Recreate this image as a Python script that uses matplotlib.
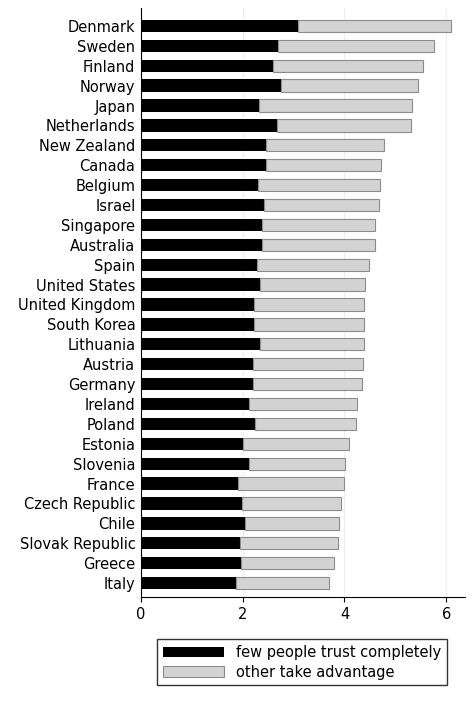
import matplotlib.pyplot as plt
import numpy as np

countries = ["Denmark", "Sweden", "Finland", "Norway", "Japan", "Netherlands",
             "New Zealand", "Canada", "Belgium", "Israel", "Singapore", "Australia",
             "Spain", "United States", "United Kingdom", "South Korea", "Lithuania",
             "Austria", "Germany", "Ireland", "Poland", "Estonia", "Slovenia",
             "France", "Czech Republic", "Chile", "Slovak Republic", "Greece", "Italy"]
trust = [3.09, 2.70, 2.60, 2.75, 2.32, 2.68, 2.45, 2.45, 2.30, 2.41, 2.38, 2.38,
         2.28, 2.34, 2.23, 2.22, 2.34, 2.20, 2.20, 2.12, 2.24, 2.01, 2.13,
         1.90, 1.98, 2.04, 1.94, 1.96, 1.86]
total = [6.10, 5.76, 5.54, 5.45, 5.32, 5.30, 4.77, 4.72, 4.69, 4.67, 4.61, 4.61,
         4.48, 4.41, 4.39, 4.38, 4.39, 4.36, 4.35, 4.24, 4.22, 4.09, 4.02,
         3.99, 3.94, 3.90, 3.88, 3.79, 3.69]

trust = np.array(trust)
other = np.array(total) - trust
y = np.arange(len(countries))

fig = plt.figure(figsize=(4.74, 7.03), dpi=100)
ax = fig.add_axes([141/474, 1 - 597/703, 324/474, 589/703])

ax.barh(y, trust, height=0.62, color="black", label="few people trust completely")
ax.barh(y, other, left=trust, height=0.62, color="#d3d3d3", edgecolor="#8c8c8c",
        linewidth=0.8, label="other take advantage")

ax.set_yticks(y)
ax.set_yticklabels(countries, fontsize=10.5)
ax.tick_params(axis="y", length=0, pad=4)
ax.set_ylim(len(countries) - 0.3, -0.9)
ax.set_xlim(0, 6.37)
ax.set_xticks([0, 2, 4, 6])
ax.tick_params(axis="x", labelsize=10.5)
ax.xaxis.grid(True, color="#eeeeee", linewidth=0.8)
ax.set_axisbelow(True)
for s in ["top", "right"]:
    ax.spines[s].set_visible(False)

fig.legend(loc="upper left", bbox_to_anchor=(150/474, 1 - 632/703), ncol=1,
           fontsize=10.5, frameon=True, fancybox=False, edgecolor="black",
           handlelength=4.2, borderpad=0.4, labelspacing=0.3)

plt.savefig("out.png", dpi=100)
